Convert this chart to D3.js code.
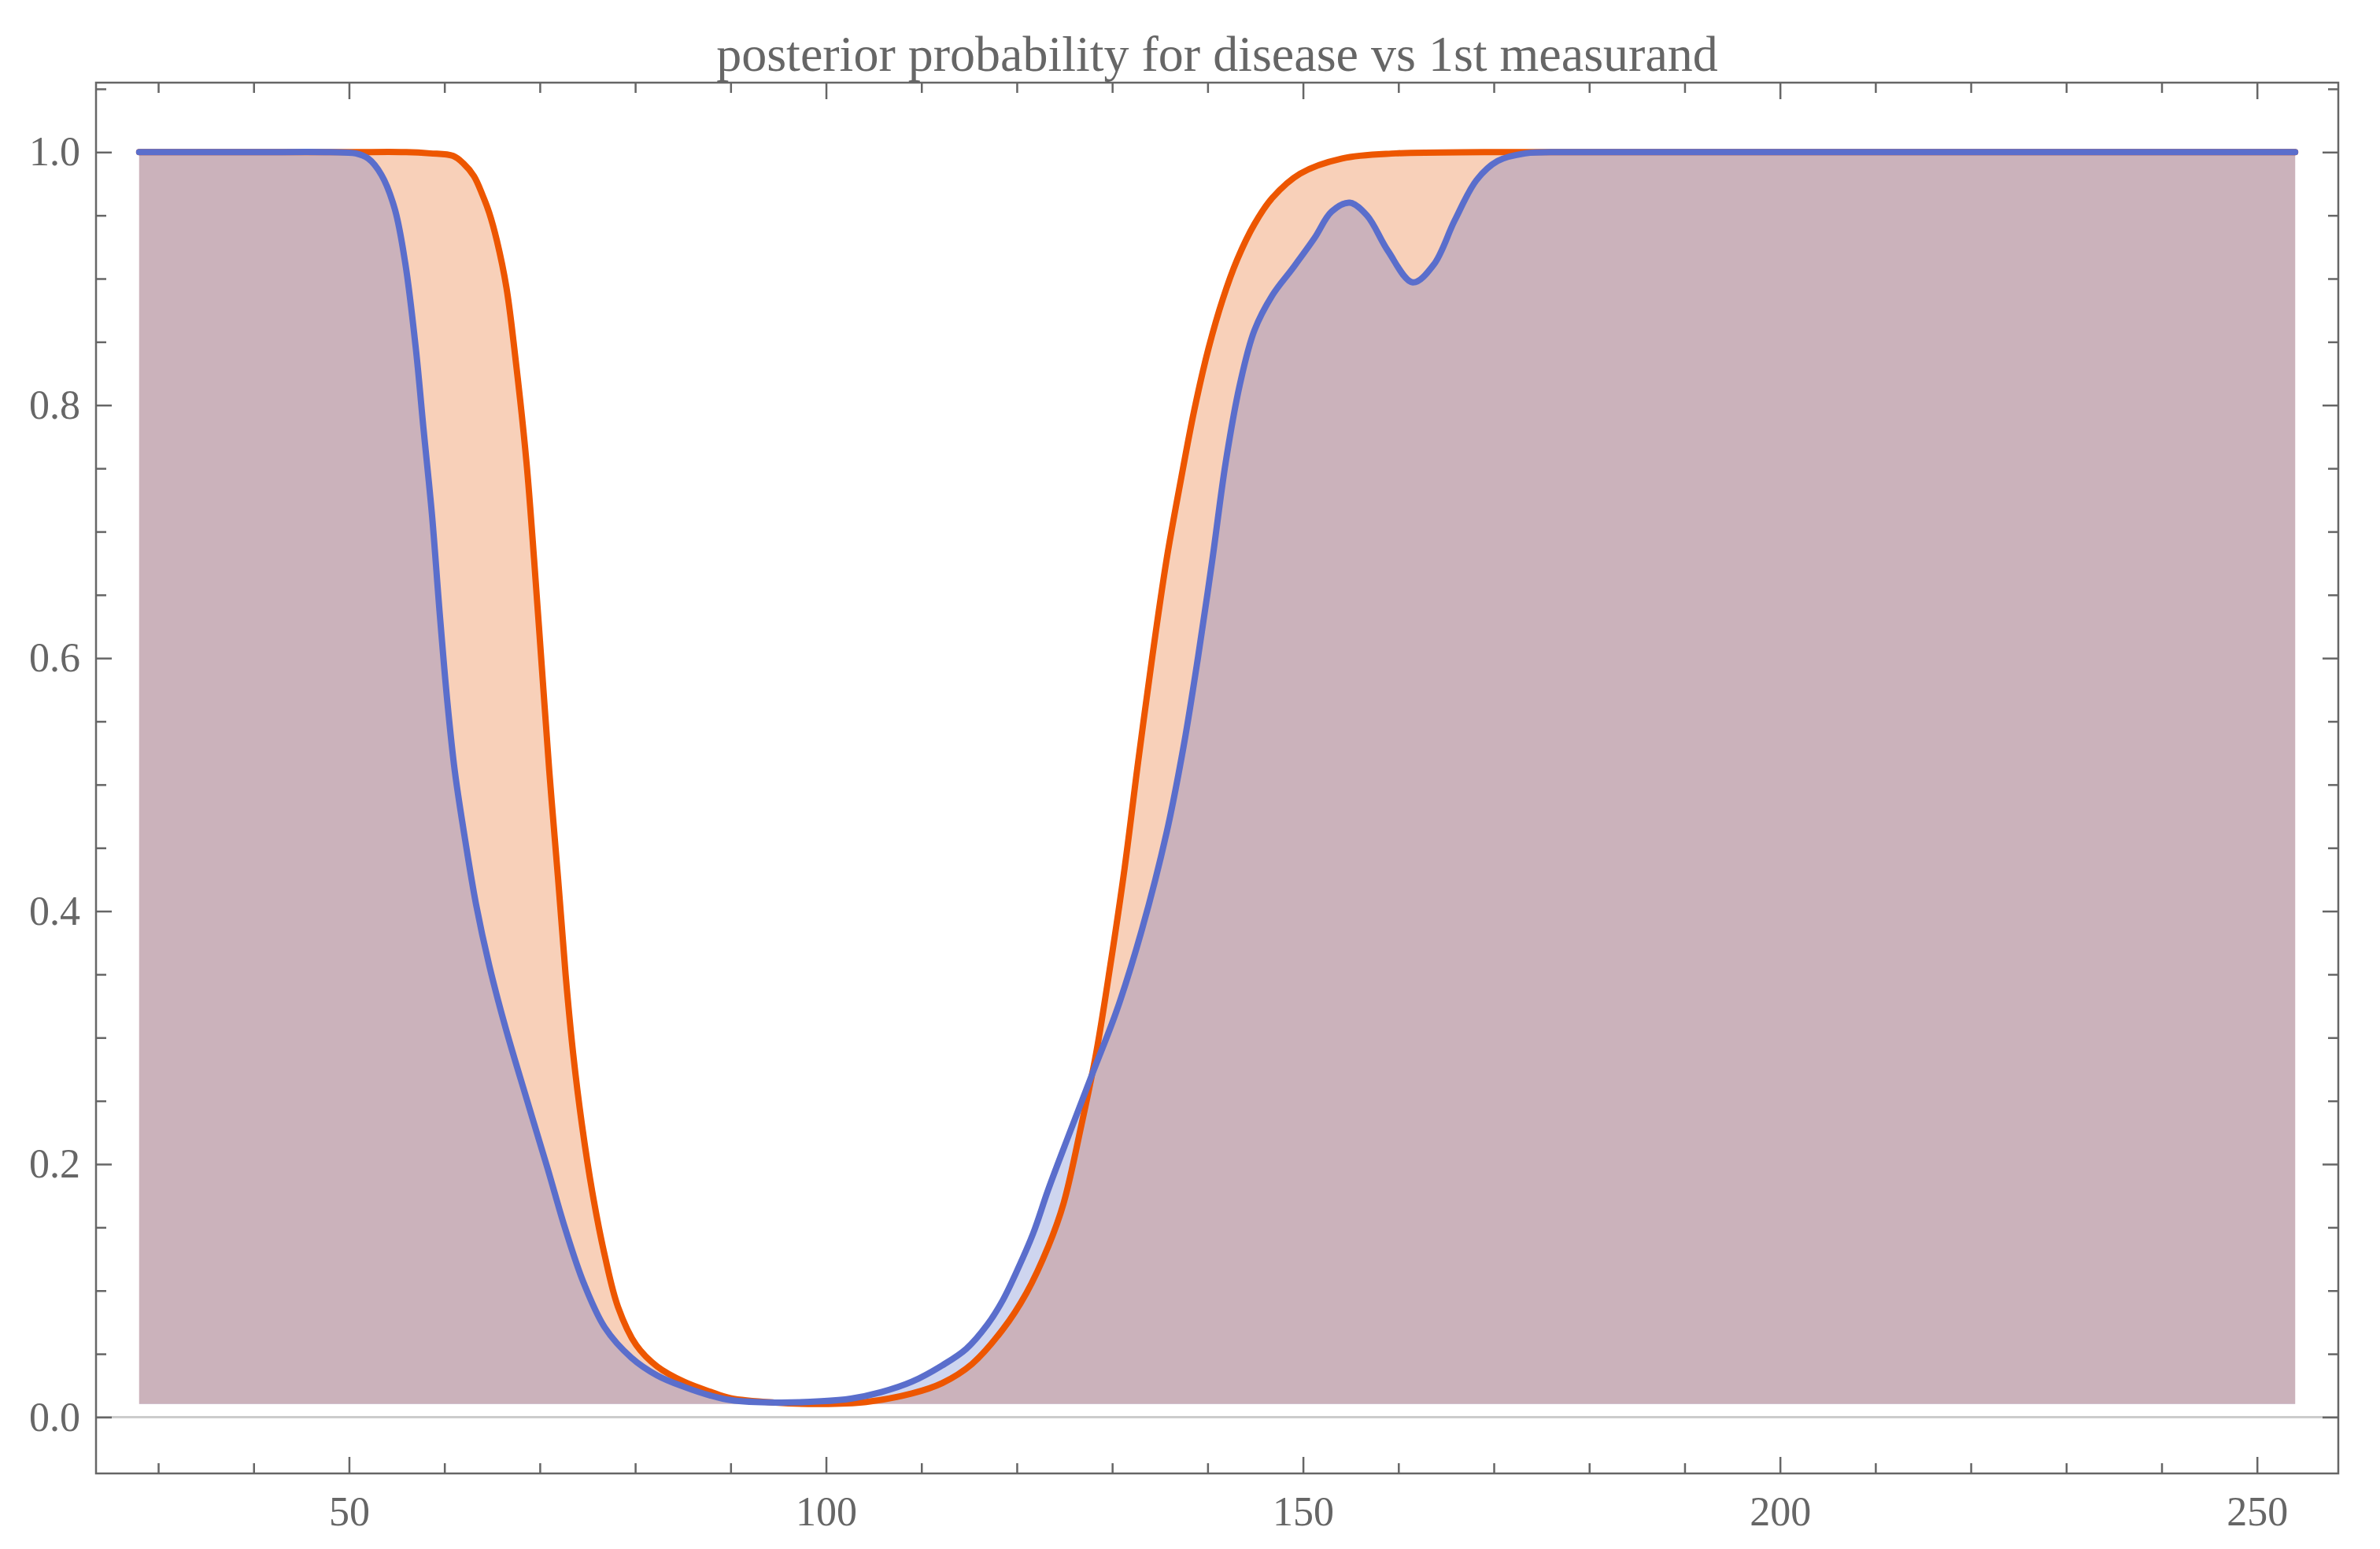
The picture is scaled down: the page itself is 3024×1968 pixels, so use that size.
<!DOCTYPE html>
<html>
<head>
<meta charset="utf-8">
<script src="https://cdn.jsdelivr.net/npm/d3@7"></script>
<style>
  html, body { margin: 0; padding: 0; background: #ffffff; }
  svg { display: block; }
  text { font-family: "Liberation Serif", "Times New Roman", serif; fill: #666666; }
</style>
</head>
<body>
<script>
// ---- data ----
const titleText = "posterior probability for disease vs 1st measurand";

const orangeX = [28, 40, 50, 56, 58.5, 60.9, 62, 63.1, 64, 64.7, 65.5, 66.5, 67.4, 68.6, 69.4, 70.2, 71.0, 71.9, 72.7, 73.5, 74.4, 75.5, 76.8, 78.2, 80.1, 82.3, 85.1, 87.9, 90, 94.7, 99.5, 104.2, 109, 112.2, 115.3, 118.5, 121, 123.3, 124.9, 126.8, 128.3, 129.8, 131.3, 132.7, 134.2, 135.7, 137.2, 138.6, 140.1, 141.6, 143.1, 144.9, 146.8, 149.7, 154.1, 159.7, 169, 180, 220, 254];
const orangeY = [1, 1, 1, 1, 0.999, 0.997, 0.991, 0.981, 0.966, 0.952, 0.930, 0.893, 0.840, 0.755, 0.678, 0.594, 0.510, 0.427, 0.350, 0.287, 0.232, 0.178, 0.128, 0.087, 0.057, 0.040, 0.028, 0.020, 0.015, 0.0115, 0.0104, 0.012, 0.0187, 0.027, 0.042, 0.069, 0.098, 0.135, 0.169, 0.232, 0.287, 0.357, 0.434, 0.517, 0.601, 0.678, 0.741, 0.796, 0.845, 0.884, 0.915, 0.943, 0.964, 0.983, 0.995, 0.999, 1, 1, 1, 1];

const blueX = [28, 40, 48, 50.7, 52.0, 53.4, 54.8, 55.9, 57.0, 57.8, 58.7, 59.5, 60.3, 61.1, 62.2, 63.3, 64.7, 66.4, 68.6, 70.8, 72.7, 74.6, 76.8, 79.6, 82.3, 85.1, 87.9, 90, 94.7, 99.5, 102.6, 105.8, 109, 112.2, 114.7, 116.9, 118.5, 120.1, 121.7, 123.3, 125.4, 128, 130.5, 133.1, 135.7, 137.5, 139, 140.5, 141.9, 143.4, 144.9, 146.8, 148.9, 151.2, 153, 154.9, 156.7, 158.9, 161.5, 163.7, 165.9, 168.2, 170.4, 173.3, 178, 200, 254];
const blueY = [1, 1, 1, 0.999, 0.995, 0.982, 0.955, 0.912, 0.845, 0.782, 0.713, 0.636, 0.566, 0.510, 0.455, 0.406, 0.357, 0.308, 0.252, 0.197, 0.148, 0.106, 0.071, 0.047, 0.033, 0.024, 0.017, 0.0135, 0.0115, 0.0125, 0.0146, 0.0198, 0.028, 0.041, 0.054, 0.073, 0.092, 0.117, 0.145, 0.180, 0.222, 0.273, 0.322, 0.385, 0.462, 0.531, 0.601, 0.678, 0.755, 0.817, 0.859, 0.887, 0.908, 0.932, 0.953, 0.960, 0.950, 0.922, 0.897, 0.911, 0.946, 0.978, 0.993, 0.999, 1, 1, 1];

const xMajorTicks = [50, 100, 150, 200, 250];
const xMinorTicks = [30, 40, 60, 70, 80, 90, 110, 120, 130, 140, 160, 170, 180, 190, 210, 220, 230, 240];
const yMajorTicks = [0, 0.2, 0.4, 0.6, 0.8, 1.0];
const yMinorTicks = [0.05, 0.1, 0.15, 0.25, 0.3, 0.35, 0.45, 0.5, 0.55, 0.65, 0.7, 0.75, 0.85, 0.9, 0.95, 1.05];

// ---- layout ----
const W = 3024, H = 1968;
const L = 122, R = 2971, T = 105, B = 1872;

const orange = orangeX.map((x, i) => ({x, y: orangeY[i]}));
const blue = blueX.map((x, i) => ({x, y: blueY[i]}));
const allX = orangeX.concat(blueX), allY = orangeY.concat(blueY);
const xMin = d3.min(allX), xMax = d3.max(allX);
const yMin = d3.min(allY), yMax = d3.max(allY);
const padX = (xMax - xMin) * 0.02, padY = (yMax - yMin) * 0.0555;

const x = d3.scaleLinear().domain([xMin - padX, xMax + padX]).range([L, R]);
const y = d3.scaleLinear().domain([yMin - padY, yMax + padY]).range([B, T]);

const svg = d3.select("body").append("svg").attr("width", W).attr("height", H);

// zero axis line
svg.append("line")
  .attr("x1", L).attr("x2", R).attr("y1", y(0)).attr("y2", y(0))
  .attr("stroke", "#cccccc").attr("stroke-width", 3);

const curve = d3.curveCatmullRom.alpha(0.5);
const area = d3.area().x(d => x(d.x)).y0(y(yMin)).y1(d => y(Math.min(d.y, 1))).curve(curve);
const line = d3.line().x(d => x(d.x)).y(d => y(d.y)).curve(curve);

const defs = svg.append("defs");
defs.append("clipPath").attr("id", "clipOrange")
  .append("path").attr("d", area(orange));
defs.append("clipPath").attr("id", "plotClip")
  .append("rect").attr("x", L).attr("y", T).attr("width", R - L).attr("height", B - T);
// keep curves from overshooting above 1.0 / below the base
defs.append("clipPath").attr("id", "dataClip")
  .append("rect").attr("x", L).attr("y", y(yMax) - 4.5).attr("width", R - L).attr("height", y(yMin) - y(yMax) + 9);

const plot = svg.append("g").attr("clip-path", "url(#plotClip)");
const fills = plot.append("g").attr("clip-path", "url(#dataClip)");
fills.append("path").attr("d", area(orange)).attr("fill", "#f8d0b9");
fills.append("path").attr("d", area(blue)).attr("fill", "#ced5ef");
fills.append("path").attr("d", area(blue)).attr("fill", "#cbb2bb").attr("clip-path", "url(#clipOrange)");

plot.append("path").attr("d", line(orange)).attr("fill", "none")
  .attr("stroke", "#ed5600").attr("stroke-width", 8).attr("stroke-linejoin", "round").attr("stroke-linecap", "round");
plot.append("path").attr("d", line(blue)).attr("fill", "none")
  .attr("stroke", "#5a6ecc").attr("stroke-width", 8).attr("stroke-linejoin", "round").attr("stroke-linecap", "round");

// ---- axes / frame ----
function styleAxis(g) {
  g.select(".domain").remove();
  g.selectAll("line").attr("stroke", "#666666").attr("stroke-width", 2.5);
  g.selectAll("text").attr("fill", "#666666")
    .style("font-family", '"Liberation Serif", "Times New Roman", serif')
    .style("font-size", "52px");
}

svg.append("g").attr("transform", `translate(0,${B})`)
  .call(d3.axisBottom(x).tickValues(xMajorTicks).tickSize(-21).tickPadding(29).tickFormat(d3.format("d")))
  .call(styleAxis);
svg.append("g").attr("transform", `translate(0,${B})`)
  .call(d3.axisBottom(x).tickValues(xMinorTicks).tickSize(-13).tickFormat(""))
  .call(styleAxis);
svg.append("g").attr("transform", `translate(0,${T})`)
  .call(d3.axisTop(x).tickValues(xMajorTicks).tickSize(-21).tickFormat(""))
  .call(styleAxis);
svg.append("g").attr("transform", `translate(0,${T})`)
  .call(d3.axisTop(x).tickValues(xMinorTicks).tickSize(-13).tickFormat(""))
  .call(styleAxis);

svg.append("g").attr("transform", `translate(${L},0)`)
  .call(d3.axisLeft(y).tickValues(yMajorTicks).tickSize(-20).tickPadding(20).tickFormat(d3.format(".1f")))
  .call(styleAxis);
svg.append("g").attr("transform", `translate(${L},0)`)
  .call(d3.axisLeft(y).tickValues(yMinorTicks).tickSize(-13).tickFormat(""))
  .call(styleAxis);
svg.append("g").attr("transform", `translate(${R},0)`)
  .call(d3.axisRight(y).tickValues(yMajorTicks).tickSize(-20).tickFormat(""))
  .call(styleAxis);
svg.append("g").attr("transform", `translate(${R},0)`)
  .call(d3.axisRight(y).tickValues(yMinorTicks).tickSize(-13).tickFormat(""))
  .call(styleAxis);

svg.append("rect").attr("x", L).attr("y", T).attr("width", R - L).attr("height", B - T)
  .attr("fill", "none").attr("stroke", "#666666").attr("stroke-width", 2.5);

svg.append("text").attr("x", (L + R) / 2).attr("y", 90)
  .attr("text-anchor", "middle").style("font-size", "64px").text(titleText);
</script>
</body>
</html>
